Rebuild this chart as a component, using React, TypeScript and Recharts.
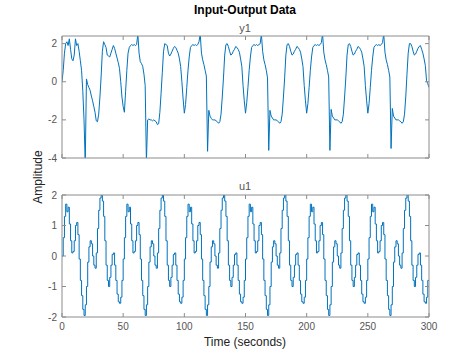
import React from 'react';
import { LineChart, Line, XAxis, YAxis } from 'recharts';

// sample time of both signals (seconds)
const sampleTime = 1;

const timeTicks = [0, 50, 100, 150, 200, 250, 300];
const y1Ticks = [-4, -2, 0, 2];
const u1Ticks = [-2, -1, 0, 1, 2];

// output y1, one value per second, t = 0..300
const y1Values = [
  // 0 - 49
  0.0, 0.6, 1.5, 2.0, 2.1, 1.9, 2.25, 1.7, 1.2, 1.1,
  1.4, 2.25, 1.9, 2.0, 1.6, 1.1, 0.6, -0.5, -2.0, -4.3,
  0.15, -0.15, -0.3, -0.45, -0.75, -1.0, -1.3, -1.6, -2.05, -2.1,
  -1.7, -0.8, 0.3, 1.6, 2.1, 1.95, 1.8, 1.4, 1.35, 1.3,
  1.5, 1.7, 1.9, 1.75, 1.5, 1.25, 1.0, 0.7, 0.0, -0.8,
  // 50 - 99
  -1.3, -1.6, -0.5, 0.6, 1.5, 1.8, 1.9, 1.95, 1.9, 1.95,
  1.9, 1.95, 2.5, 1.5, 1.05, 0.95, 0.8, 0.4, -0.2, -4.2,
  -2.0, -1.95, -2.0, -2.0, -2.05, -2.0, -2.05, -2.1, -2.25, -2.2,
  -1.6, -0.6, 0.5, 1.6, 2.0, 1.95, 1.9, 1.5, 1.35, 1.45,
  1.6, 1.75, 1.85, 1.8, 1.65, 1.5, 1.2, 0.8, 0.0, -0.9,
  // 100 - 149
  -1.65, -1.2, -0.3, 0.6, 1.3, 1.8, 1.9, 1.95, 1.9, 1.95,
  1.9, 1.95, 2.1, 2.5, 1.5, 1.15, 0.9, 0.6, 0.3, -3.65,
  -1.5, -1.8, -1.92, -2.0, -2.0, -2.0, -2.05, -2.1, -2.18, -2.1,
  -1.7, -0.8, 0.2, 1.4, 1.95, 2.0, 1.85, 1.6, 1.4, 1.45,
  1.6, 1.7, 1.85, 1.8, 1.7, 1.55, 1.2, 0.8, -0.2, -1.0,
  // 150 - 199
  -1.65, -1.1, -0.3, 0.6, 1.3, 1.8, 1.9, 1.95, 1.9, 1.95,
  1.9, 1.95, 2.0, 2.5, 1.6, 1.15, 0.9, 0.6, 0.2, -3.6,
  -1.5, -1.8, -1.9, -2.0, -2.0, -2.0, -2.05, -2.1, -2.18, -2.1,
  -1.7, -0.8, 0.2, 1.4, 1.95, 2.0, 1.85, 1.6, 1.4, 1.45,
  1.6, 1.7, 1.85, 1.8, 1.7, 1.55, 1.2, 0.8, -0.2, -1.0,
  // 200 - 249
  -1.65, -1.15, -0.3, 0.6, 1.3, 1.8, 1.9, 1.95, 1.9, 1.95,
  1.9, 1.95, 2.05, 2.5, 1.55, 1.15, 0.9, 0.6, 0.25, -3.6,
  -1.45, -1.8, -1.9, -2.0, -2.0, -2.0, -2.05, -2.1, -2.18, -2.1,
  -1.7, -0.8, 0.2, 1.4, 1.95, 2.0, 1.85, 1.6, 1.4, 1.45,
  1.6, 1.7, 1.85, 1.8, 1.7, 1.55, 1.2, 0.8, -0.2, -1.0,
  // 250 - 300
  -1.65, -1.15, -0.3, 0.6, 1.3, 1.8, 1.9, 1.95, 1.9, 1.95,
  1.9, 1.95, 2.05, 2.5, 1.55, 1.15, 0.9, 0.6, 0.25, -3.5,
  -1.4, -1.8, -1.9, -2.0, -2.0, -2.0, -2.05, -2.1, -2.18, -2.1,
  -1.7, -0.8, 0.4, 1.5, 2.0, 2.0, 1.85, 1.6, 1.4, 1.45,
  1.6, 1.75, 1.85, 1.9, 1.7, 1.5, 1.2, 0.85, 0.05, -0.1,
  -0.3,
];

// input u1, one value per second (zero-order hold), t = 0..300
const u1Values = [
  // 0 - 49
  0.0, 0.6, 1.3, 1.7, 1.45, 1.6, 1.05, 0.5, 0.1, 0.15,
  0.5, 1.0, 1.1, 0.7, -0.1, -0.8, -1.3, -1.75, -1.95, -1.6,
  -1.0, -0.2, 0.3, 0.5, 0.4, 0.0, -0.3, -0.4, 0.1, 0.9,
  1.5, 1.9, 2.0, 1.8, 1.3, 0.5, -0.3, -0.8, -1.0, -0.7,
  -0.3, 0.05, 0.1, -0.3, -0.8, -1.25, -1.5, -1.55, -1.35, -0.8,
  // 50 - 99
  -0.1, 0.6, 1.3, 1.7, 1.45, 1.6, 1.05, 0.5, 0.1, 0.15,
  0.5, 1.0, 1.1, 0.7, -0.1, -0.8, -1.3, -1.75, -1.95, -1.6,
  -1.0, -0.2, 0.3, 0.5, 0.4, 0.0, -0.3, -0.4, 0.1, 0.9,
  1.5, 1.9, 2.0, 1.8, 1.3, 0.5, -0.3, -0.8, -1.0, -0.7,
  -0.3, 0.05, 0.1, -0.3, -0.8, -1.25, -1.5, -1.55, -1.35, -0.8,
  // 100 - 149
  -0.1, 0.6, 1.3, 1.7, 1.45, 1.6, 1.05, 0.5, 0.1, 0.15,
  0.5, 1.0, 1.1, 0.7, -0.1, -0.8, -1.3, -1.75, -1.95, -1.6,
  -1.0, -0.2, 0.3, 0.5, 0.4, 0.0, -0.3, -0.4, 0.1, 0.9,
  1.5, 1.9, 2.0, 1.8, 1.3, 0.5, -0.3, -0.8, -1.0, -0.7,
  -0.3, 0.05, 0.1, -0.3, -0.8, -1.25, -1.5, -1.55, -1.35, -0.8,
  // 150 - 199
  -0.1, 0.6, 1.3, 1.7, 1.45, 1.6, 1.05, 0.5, 0.1, 0.15,
  0.5, 1.0, 1.1, 0.7, -0.1, -0.8, -1.3, -1.75, -1.95, -1.6,
  -1.0, -0.2, 0.3, 0.5, 0.4, 0.0, -0.3, -0.4, 0.1, 0.9,
  1.5, 1.9, 2.0, 1.8, 1.3, 0.5, -0.3, -0.8, -1.0, -0.7,
  -0.3, 0.05, 0.1, -0.3, -0.8, -1.25, -1.5, -1.55, -1.35, -0.8,
  // 200 - 249
  -0.1, 0.6, 1.3, 1.7, 1.45, 1.6, 1.05, 0.5, 0.1, 0.15,
  0.5, 1.0, 1.1, 0.7, -0.1, -0.8, -1.3, -1.75, -1.95, -1.6,
  -1.0, -0.2, 0.3, 0.5, 0.4, 0.0, -0.3, -0.4, 0.1, 0.9,
  1.5, 1.9, 2.0, 1.8, 1.3, 0.5, -0.3, -0.8, -1.0, -0.7,
  -0.3, 0.05, 0.1, -0.3, -0.8, -1.25, -1.5, -1.55, -1.35, -0.8,
  // 250 - 300
  -0.1, 0.6, 1.3, 1.7, 1.45, 1.6, 1.05, 0.5, 0.1, 0.15,
  0.5, 1.0, 1.1, 0.7, -0.1, -0.8, -1.3, -1.75, -1.95, -1.6,
  -1.0, -0.2, 0.3, 0.5, 0.4, 0.0, -0.3, -0.4, 0.1, 0.9,
  1.5, 1.9, 2.0, 1.8, 1.3, 0.5, -0.3, -0.8, -1.0, -0.7,
  -0.3, 0.05, 0.1, -0.3, -0.8, -1.25, -1.5, -1.55, -1.35, -0.8,
  -0.8,
];

const y1Data = y1Values.map((v, i) => ({ t: i * sampleTime, v }));
const u1Data = u1Values.map((v, i) => ({ t: i * sampleTime, v }));

const FONT = '"Liberation Sans", Arial, Helvetica, sans-serif';
const BOX = '#8c8c8c';
const TICK_TEXT = '#555555';
const LINE = '#0072BD';

const hidden = () => '';

interface PanelProps {
  data: { t: number; v: number }[];
  yDomain: [number, number];
  yTicks: number[];
  height: number;
  margin: { top: number; right: number; bottom: number; left: number };
  bottomAxisHeight: number;
  showTimeLabels: boolean;
  lineType: 'linear' | 'stepAfter';
}

const Panel: React.FC<PanelProps> = (p) => {
  const tickStyle = { fill: TICK_TEXT, fontSize: 10, fontFamily: FONT };
  return (
    <LineChart width={474} height={p.height} data={p.data} margin={p.margin}>
      <XAxis
        xAxisId="b"
        dataKey="t"
        type="number"
        orientation="bottom"
        domain={[0, 300]}
        ticks={timeTicks}
        interval={0}
        allowDataOverflow
        height={p.bottomAxisHeight}
        stroke={BOX}
        tickSize={-4}
        tickMargin={10}
        tick={tickStyle}
        tickFormatter={p.showTimeLabels ? undefined : hidden}
      />
      <XAxis
        xAxisId="t"
        dataKey="t"
        type="number"
        orientation="top"
        domain={[0, 300]}
        ticks={timeTicks}
        interval={0}
        allowDataOverflow
        height={1}
        stroke={BOX}
        tickSize={-4}
        tick={tickStyle}
        tickFormatter={hidden}
      />
      <YAxis
        yAxisId="l"
        type="number"
        domain={p.yDomain}
        ticks={p.yTicks}
        interval={0}
        allowDataOverflow
        width={62}
        stroke={BOX}
        tickSize={-4}
        tickMargin={9}
        tick={tickStyle}
      />
      <YAxis
        yAxisId="r"
        orientation="right"
        type="number"
        domain={p.yDomain}
        ticks={p.yTicks}
        interval={0}
        allowDataOverflow
        width={1}
        stroke={BOX}
        tickSize={-4}
        tick={tickStyle}
        tickFormatter={hidden}
      />
      <Line
        xAxisId="b"
        yAxisId="l"
        dataKey="v"
        type={p.lineType}
        stroke={LINE}
        strokeWidth={1}
        dot={false}
        isAnimationActive={false}
      />
    </LineChart>
  );
};

const label = (
  text: string,
  x: number,
  y: number,
  style: React.CSSProperties = {}
) => (
  <div
    style={{
      position: 'absolute',
      left: x,
      top: y,
      transform: 'translate(-50%, -50%)',
      whiteSpace: 'nowrap',
      lineHeight: 1,
      fontFamily: FONT,
      ...style,
    }}
  >
    {text}
  </div>
);

export default function App() {
  return (
    <div
      style={{
        position: 'absolute',
        left: 0,
        top: 0,
        width: 474,
        height: 355,
        background: '#ffffff',
        overflow: 'hidden',
      }}
    >
      <div style={{ position: 'absolute', left: 0, top: 0 }}>
        <Panel
          data={y1Data}
          yDomain={[-4, 2.4]}
          yTicks={y1Ticks}
          height={170}
          margin={{ top: 35, right: 44, bottom: 11, left: 0 }}
          bottomAxisHeight={1}
          showTimeLabels={false}
          lineType="linear"
        />
      </div>
      <div style={{ position: 'absolute', left: 0, top: 170 }}>
        <Panel
          data={u1Data}
          yDomain={[-2, 2]}
          yTicks={u1Ticks}
          height={185}
          margin={{ top: 24, right: 44, bottom: 8, left: 0 }}
          bottomAxisHeight={30}
          showTimeLabels={true}
          lineType="stepAfter"
        />
      </div>
      {label('Input-Output Data', 245, 10, { fontSize: 12, fontWeight: 'bold', color: '#000' })}
      {label('y1', 245, 28, { fontSize: 11, color: '#555' })}
      {label('u1', 245, 186, { fontSize: 11, color: '#555' })}
      {label('Time (seconds)', 245, 342, { fontSize: 12, color: '#222' })}
      {label('Amplitude', 38, 177, { fontSize: 12, color: '#222', transform: 'translate(-50%, -50%) rotate(-90deg)' })}
    </div>
  );
}
